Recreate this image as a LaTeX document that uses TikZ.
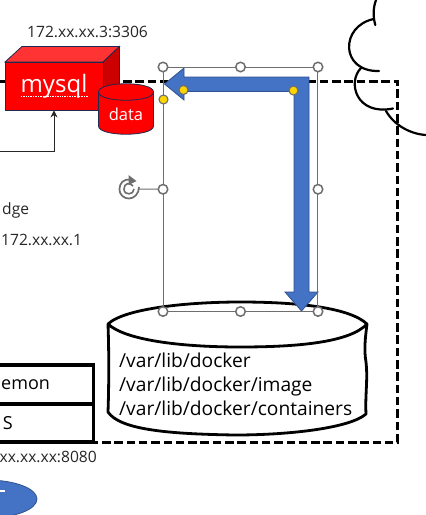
\documentclass[tikz,border=0pt]{standalone}
\usepackage{fontspec}
\setmainfont{Open Sans}
\usetikzlibrary{calc,positioning,arrows.meta}
\definecolor{edgenavy}{HTML}{1F2A50}
\definecolor{mysqlred}{HTML}{FF0000}
\definecolor{toptred}{HTML}{FF3333}
\definecolor{sidered}{HTML}{CC0000}
\definecolor{arrowblue}{HTML}{4472C4}
\definecolor{arrowedge}{HTML}{2F528F}
\definecolor{handlegray}{HTML}{6E6E6E}
\definecolor{handleyellow}{HTML}{FFD500}
\definecolor{labeltext}{HTML}{262626}

\begin{document}
\begin{tikzpicture}[
      x=1pt, y=-1pt,
      label14/.style={font=\fontsize{15.6}{18}\selectfont, text=labeltext, inner sep=0pt},
      disktext/.style={font=\fontsize{19.2}{24}\selectfont, text=black, align=left, inner sep=0pt},
      stacktext/.style={font=\fontsize{18}{24}\selectfont, text=black, inner sep=0pt},
      hostline/.style={black, line width=3pt, dash pattern=on 8.5pt off 3.8pt},
      stackbox/.style={black, line width=3.2pt},
      cloudline/.style={black, line width=2.2pt, line cap=round},
      redface/.style={fill=mysqlred, draw=edgenavy, line width=0.8pt},
      mysqlface/.style={redface, minimum width=98pt, minimum height=48pt, inner sep=0pt, text=white,
        font=\fontsize{24}{28}\selectfont},
      selbox/.style={draw=handlegray, line width=1pt, minimum width=154pt, minimum height=243.5pt, inner sep=0pt},
      handle/.style={circle, draw=handlegray, fill=white, line width=1.5pt, minimum size=9.5pt, inner sep=0pt},
      adjust/.style={circle, draw=handlegray, fill=handleyellow, line width=1.1pt, minimum size=9pt, inner sep=0pt}
    ]
      \clip (0,0) rectangle (426,515);
      \fill[white] (0,0) rectangle (426,515);

      % host box
      \coordinate (hostleft) at (0,81);
      \coordinate (hostend) at (94,442);
      \draw[hostline] (hostleft) -- (397.5,81) -- (397.5,442) -- (hostend);

      % cloud
      \draw[cloudline] (376,0) .. controls (373,8) and (373,17) .. (375.3,25);
      \draw[cloudline] (373.7,19) .. controls (340,26) and (340,72) .. (379,71);
      \draw[cloudline] (361,68) .. controls (347,82) and (356,116) .. (393,108.5);
      \draw[cloudline] (386,111) .. controls (394,125) and (410,134) .. (426,135);

      % mysql
      \fill[toptred, draw=edgenavy, line width=0.8pt] (5,62) -- (22,46.5) -- (119.5,46.5) -- (103,62) -- cycle;
      \fill[sidered, draw=edgenavy, line width=0.8pt] (103,62) -- (119.5,46.5) -- (119.5,95) -- (103,110) -- cycle;
      \node[mysqlface] (mysql) at (54,86) {mysql};
      \draw[white, line width=0.7pt, densely dotted] (21,96.7) -- (88,96.7);
      \node[label14, anchor=west] (mysqlip) at (27,32) {172.xx.xx.3:3306};
      \coordinate (bridgeout) at (0,151.5);
      \draw[labeltext, line width=1pt, -{Stealth[length=7pt,width=7pt]}] (bridgeout) -| (mysql.south);

      % data volume
      \draw[redface] (98.5,92) -- (98.5,126) .. controls (98.5,137) and (153.5,137) .. (153.5,126) -- (153.5,92)
        .. controls (153.5,81) and (98.5,81) .. (98.5,92) .. controls (98.5,103) and (153.5,103) .. (153.5,92);
      \node[font=\fontsize{16.5}{20}\selectfont, text=white, inner sep=0pt] (data) at (126,114.5) {data};

      % left side labels
      \node[label14, anchor=west] (bridge) at (2,210) {dge};
      \node[label14, anchor=west] (bridgeip) at (1,240) {172.xx.xx.1};
      \node[label14, anchor=east] (hostip) at (97,457) {xx.xx.xx:8080};

      % docker stack
      \draw[stackbox] (0,365) -- (93.5,365) -- (93.5,442) -- (0,442) (0,404) -- (93.5,404);
      \node[stacktext, anchor=west] (daemon) at (1,385) {emon};
      \node[stacktext, anchor=east] (os) at (13,423) {S};

      % bottom ellipse
      \draw[fill=arrowblue, draw=arrowedge, line width=0.8pt] (-13,499) ellipse [x radius=50, y radius=19];
      \draw[white, line width=1.3pt] (0,491) -- (5,491);

      % disk
      \draw[fill=white, draw=black, line width=2.8pt, line join=round]
        (108,324) .. controls (125,308) and (190,302) .. (240,302) .. controls (300,302) and (350,308) .. (367,324)
        .. controls (365,340) and (364,350) .. (366,362) .. controls (368,380) and (365,395) .. (366,414)
        .. controls (350,428) and (290,435) .. (235,435) .. controls (170,434) and (120,430) .. (108,412)
        .. controls (109,385) and (109,350) .. (108,324)
        .. controls (125,340) and (180,347) .. (240,347) .. controls (300,347) and (350,342) .. (367,324);
      \node[disktext, anchor=north west] (paths) at (119,352.5) {/var/lib/docker\\/var/lib/docker/image\\/var/lib/docker/containers};

      % bent arrow
      \draw[fill=arrowblue, draw=arrowedge, line width=0.8pt, line join=miter]
        (164.5,84) -- (184,68) -- (184,77) -- (309,77) -- (309,292) -- (318,292) -- (301.5,311)
        -- (285,292) -- (294,292) -- (294,91.5) -- (184,91.5) -- (184,100) -- cycle;

      % selection frame
      \node[selbox] (sel) at (240.5,189.25) {};
      \node[circle, minimum size=20pt, inner sep=0pt] (rot) at (129,189) {};
      \draw[handlegray, line width=1pt] (sel.west) -- (rot);
      \draw[handlegray, line width=1.7pt] (131,180) .. controls (123,178) and (119.5,184) .. (119.5,189)
        .. controls (119.5,196) and (125,198.5) .. (129,198.5) .. controls (134,198.5) and (139,194) .. (139,187);
      \draw[handlegray, line width=1.6pt] (134,189) .. controls (134,195) and (124,196) .. (124,189)
        .. controls (124,183) and (130,182) .. (133,186);
      \fill[handlegray] (128.5,175) -- (136.5,181) -- (128.5,185) -- cycle;
      \foreach \a/\n in {north west/nw,north/n,north east/ne,west/w,east/e,south west/sw,south/s,south east/se}
        \node[handle] (h\n) at (sel.\a) {};
      \foreach \p/\n in {{163.5,99.5}/a,{183.5,90}/b,{293.5,90.5}/c}
        \node[adjust] (y\n) at (\p) {};
    \end{tikzpicture}
\end{document}
